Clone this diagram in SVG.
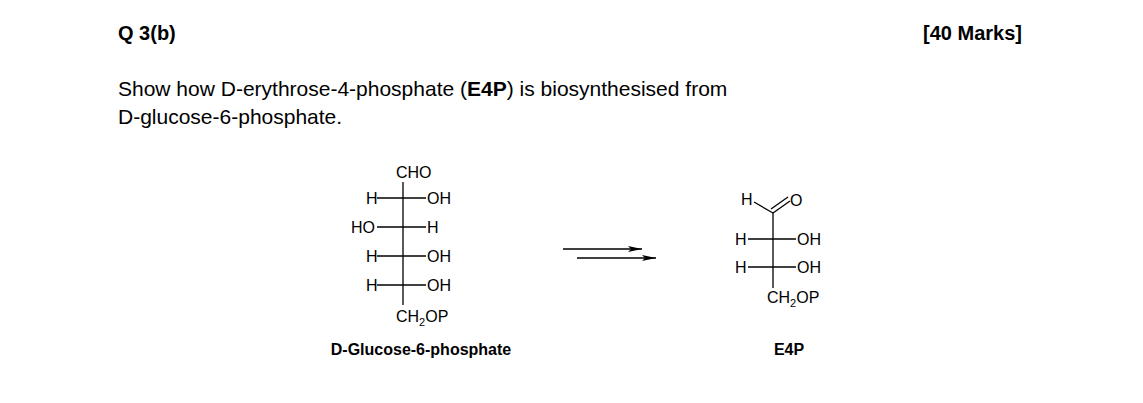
<svg xmlns="http://www.w3.org/2000/svg" width="1143" height="403" viewBox="0 0 1143 403">
<style>
text{font-family:"Liberation Sans",Arial,sans-serif;fill:#000}
.h{font-size:20px;font-weight:bold}
.b{font-size:21px}
.c{font-size:16px}
.l{font-size:16px;font-weight:bold}
.s{font-size:11px}
line,path{stroke:#000;stroke-width:1.3;fill:none}
</style>
<defs><marker id="a" markerWidth="14" markerHeight="6" refX="14" refY="3" orient="auto" markerUnits="userSpaceOnUse"><path d="M0,0 L14,3 L0,6 L3,3 Z" style="fill:#000;stroke:none"/></marker></defs>
<rect width="1143" height="403" fill="#fff"/>
<text class="h" x="118" y="40">Q 3(b)</text>
<text class="h" x="1022" y="40" text-anchor="end">[40 Marks]</text>
<text class="b" x="118" y="96">Show how D-erythrose-4-phosphate (<tspan font-weight="bold">E4P</tspan>) is biosynthesised from</text>
<text class="b" x="118" y="124">D-glucose-6-phosphate.</text>
<g id="glucose">
<line x1="403" y1="182" x2="403" y2="305"/>
<line x1="377" y1="198" x2="426" y2="198"/>
<line x1="377" y1="227" x2="426" y2="227"/>
<line x1="377" y1="256" x2="426" y2="256"/>
<line x1="377" y1="285" x2="426" y2="285"/>
<text class="c" x="396" y="178">CHO</text>
<text class="c" x="366" y="204">H</text><text class="c" x="427" y="204">OH</text>
<text class="c" x="351" y="233">HO</text><text class="c" x="427" y="233">H</text>
<text class="c" x="366" y="262">H</text><text class="c" x="427" y="262">OH</text>
<text class="c" x="366" y="291">H</text><text class="c" x="427" y="291">OH</text>
<text class="c" x="396" y="322">CH<tspan class="s" dy="4">2</tspan><tspan dy="-4">OP</tspan></text>
<text class="l" x="421" y="355" text-anchor="middle">D-Glucose-6-phosphate</text>
</g>
<g id="e4p">
<line x1="754" y1="202" x2="773" y2="213"/>
<line x1="773" y1="213" x2="790" y2="201"/>
<line x1="771" y1="209" x2="788" y2="197"/>
<line x1="773" y1="213" x2="773" y2="288"/>
<line x1="748" y1="239" x2="796" y2="239"/>
<line x1="748" y1="267" x2="796" y2="267"/>
<text class="c" x="741" y="205">H</text><text class="c" x="790" y="206">O</text>
<text class="c" x="735" y="245">H</text><text class="c" x="797" y="245">OH</text>
<text class="c" x="735" y="273">H</text><text class="c" x="797" y="273">OH</text>
<text class="c" x="767" y="303">CH<tspan class="s" dy="4">2</tspan><tspan dy="-4">OP</tspan></text>
<text class="l" x="789" y="355" text-anchor="middle">E4P</text>
</g>
<g id="connectors">
<line x1="563" y1="249" x2="642" y2="249" marker-end="url(#a)"/>
<line x1="577" y1="258" x2="656" y2="258" marker-end="url(#a)"/>
</g>
</svg>
